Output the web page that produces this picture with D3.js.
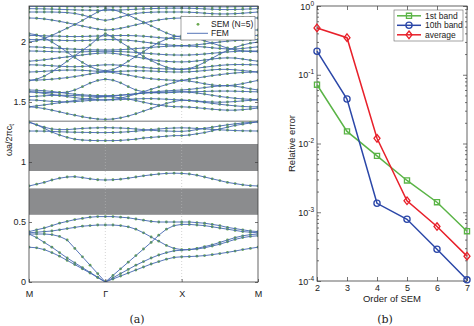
<!DOCTYPE html>
<html>
<head>
<meta charset="utf-8">
<script src="https://cdn.jsdelivr.net/npm/d3@7"></script>
<style>
  body { margin: 0; background: #fff; }
  svg { display: block; font-family: "Liberation Sans", Arial, sans-serif; }
  .frame { fill: none; stroke: #3c3c3c; stroke-width: 0.8; }
  .tick line { stroke: #3c3c3c; stroke-width: 0.7; }
  .tick text { font-family: "Liberation Sans", Arial, sans-serif; font-size: 9px; fill: #222; }
  .domain { display: none; }
</style>
</head>
<body>
<div class="container"></div>
<script>
const WIDTH = 474;
const HEIGHT = 326;

// panel (a) plot box
const A_LEFT = 29, A_RIGHT = 258, A_TOP = 6, A_BOTTOM = 282;
// panel (b) plot box
const B_LEFT = 317, B_RIGHT = 467, B_TOP = 6, B_BOTTOM = 281;

// ---- band structure (k index 0..30 along M-Γ-X-M) ----
var kTicks = [0, 10, 20, 30];
var kLabels = ["M", "Γ", "X", "M"];
var freqTicks = [0, 0.5, 1, 1.5, 2];
var gapBands = [[0.56, 0.78], [0.925, 1.15], [1.335, 1.345]];

var lowBands = [
  [0.29,0.285,0.27,0.245,0.215,0.18,0.145,0.11,0.075,0.037,0,0.025,0.05,0.075,0.1,0.125,0.15,0.17,0.19,0.205,0.21,0.212,0.215,0.22,0.228,0.237,0.247,0.258,0.27,0.28,0.29],
  [0.40,0.37,0.33,0.29,0.245,0.2,0.16,0.12,0.08,0.04,0,0.035,0.07,0.105,0.14,0.17,0.2,0.225,0.245,0.26,0.265,0.27,0.28,0.295,0.31,0.33,0.35,0.37,0.385,0.395,0.4],
  [0.40,0.40,0.40,0.395,0.38,0.35,0.28,0.21,0.14,0.07,0,0.055,0.11,0.165,0.22,0.275,0.33,0.39,0.44,0.47,0.48,0.48,0.475,0.47,0.46,0.45,0.44,0.43,0.42,0.415,0.41],
  [0.41,0.415,0.42,0.425,0.435,0.445,0.455,0.465,0.47,0.475,0.475,0.475,0.47,0.46,0.44,0.41,0.375,0.34,0.305,0.28,0.27,0.27,0.275,0.285,0.3,0.315,0.335,0.355,0.37,0.38,0.385],
  [0.42,0.435,0.45,0.47,0.49,0.505,0.52,0.53,0.54,0.545,0.545,0.545,0.54,0.535,0.525,0.515,0.505,0.5,0.5,0.5,0.5,0.5,0.495,0.49,0.48,0.47,0.455,0.445,0.435,0.425,0.42]
];

var midBands = [
  [0.80,0.815,0.83,0.85,0.865,0.875,0.878,0.87,0.86,0.852,0.85,0.852,0.857,0.865,0.875,0.885,0.893,0.9,0.905,0.907,0.905,0.9,0.89,0.875,0.86,0.845,0.83,0.82,0.81,0.803,0.80],
  [1.335,1.31,1.28,1.25,1.225,1.205,1.19,1.183,1.18,1.178,1.178,1.178,1.18,1.185,1.19,1.2,1.205,1.21,1.215,1.22,1.22,1.225,1.235,1.245,1.26,1.275,1.29,1.305,1.315,1.325,1.335],
  [1.33,1.31,1.29,1.275,1.27,1.27,1.275,1.28,1.283,1.285,1.286,1.285,1.283,1.28,1.275,1.27,1.265,1.26,1.258,1.256,1.255,1.26,1.27,1.28,1.29,1.3,1.31,1.318,1.325,1.33,1.335],
  [1.258,1.258,1.257,1.255,1.252,1.25,1.248,1.247,1.246,1.245,1.245,1.246,1.248,1.252,1.257,1.263,1.27,1.275,1.28,1.283,1.285,1.283,1.28,1.276,1.272,1.268,1.265,1.262,1.26,1.259,1.258]
];

var highBands = [
  [1.46,1.455,1.445,1.432,1.418,1.403,1.39,1.377,1.366,1.358,1.355,1.358,1.368,1.383,1.402,1.424,1.446,1.468,1.488,1.504,1.515,1.512,1.505,1.497,1.489,1.481,1.474,1.468,1.463,1.46,1.46],
  [1.517,1.515,1.51,1.505,1.502,1.5,1.503,1.508,1.513,1.516,1.517,1.518,1.52,1.523,1.526,1.528,1.528,1.526,1.523,1.52,1.517,1.513,1.508,1.503,1.5,1.498,1.5,1.504,1.509,1.514,1.517],
  [1.545,1.548,1.552,1.555,1.556,1.556,1.554,1.551,1.548,1.546,1.545,1.542,1.535,1.525,1.512,1.498,1.485,1.474,1.466,1.461,1.46,1.457,1.452,1.446,1.44,1.435,1.432,1.432,1.436,1.442,1.45],
  [1.46,1.468,1.476,1.485,1.494,1.503,1.512,1.521,1.53,1.538,1.545,1.55,1.556,1.562,1.568,1.573,1.577,1.58,1.583,1.584,1.585,1.582,1.575,1.566,1.556,1.546,1.538,1.531,1.526,1.522,1.52],
  [1.585,1.58,1.572,1.563,1.554,1.545,1.537,1.529,1.523,1.519,1.517,1.521,1.532,1.548,1.566,1.586,1.606,1.626,1.645,1.662,1.68,1.69,1.7,1.71,1.72,1.728,1.736,1.742,1.746,1.749,1.75],
  [1.585,1.583,1.58,1.578,1.578,1.582,1.6,1.628,1.658,1.68,1.69,1.682,1.66,1.628,1.6,1.585,1.578,1.576,1.577,1.58,1.585,1.585,1.586,1.588,1.59,1.591,1.591,1.59,1.588,1.586,1.585],
  [1.6,1.598,1.594,1.588,1.58,1.572,1.565,1.56,1.556,1.554,1.553,1.554,1.557,1.562,1.568,1.575,1.582,1.588,1.593,1.597,1.6,1.605,1.612,1.62,1.628,1.634,1.636,1.632,1.622,1.61,1.6],
  [1.68,1.682,1.686,1.69,1.696,1.703,1.712,1.722,1.734,1.744,1.75,1.746,1.736,1.724,1.712,1.702,1.694,1.688,1.684,1.681,1.68,1.674,1.664,1.652,1.642,1.636,1.636,1.642,1.653,1.667,1.68],
  [1.75,1.752,1.756,1.76,1.764,1.766,1.766,1.764,1.76,1.756,1.754,1.754,1.756,1.758,1.76,1.76,1.758,1.755,1.752,1.75,1.75,1.752,1.756,1.762,1.768,1.772,1.772,1.768,1.762,1.756,1.75],
  [1.81,1.809,1.806,1.802,1.798,1.795,1.794,1.796,1.8,1.806,1.81,1.81,1.806,1.8,1.794,1.788,1.782,1.778,1.775,1.774,1.774,1.776,1.782,1.79,1.798,1.805,1.81,1.812,1.812,1.811,1.81],
  [1.84,1.845,1.852,1.86,1.868,1.876,1.884,1.892,1.9,1.906,1.91,1.906,1.898,1.888,1.876,1.864,1.853,1.844,1.838,1.835,1.834,1.836,1.842,1.85,1.858,1.865,1.868,1.866,1.858,1.848,1.84],
  [1.68,1.69,1.715,1.752,1.795,1.84,1.885,1.93,1.975,2.03,2.07,2.04,2.0,1.96,1.92,1.88,1.845,1.815,1.79,1.775,1.77,1.778,1.8,1.83,1.865,1.9,1.93,1.955,1.975,1.99,2.0],
  [2.07,2.06,2.035,2.0,1.96,1.915,1.87,1.83,1.795,1.77,1.76,1.77,1.8,1.84,1.88,1.92,1.96,1.995,2.025,2.045,2.05,2.045,2.03,2.01,1.99,1.97,1.95,1.935,1.925,1.92,1.92],
  [2.0,2.01,2.03,2.055,2.085,2.115,2.145,2.18,2.215,2.25,2.275,2.27,2.25,2.225,2.195,2.165,2.135,2.105,2.075,2.052,2.04,2.04,2.045,2.055,2.065,2.075,2.085,2.092,2.097,2.1,2.1],
  [2.25,2.25,2.25,2.25,2.248,2.245,2.238,2.225,2.208,2.19,2.18,2.19,2.208,2.225,2.238,2.245,2.248,2.25,2.25,2.25,2.25,2.248,2.245,2.24,2.236,2.234,2.234,2.236,2.24,2.245,2.25],
  [2.278,2.277,2.276,2.274,2.272,2.27,2.268,2.266,2.265,2.264,2.264,2.265,2.267,2.27,2.273,2.276,2.278,2.28,2.281,2.282,2.282,2.281,2.279,2.276,2.273,2.271,2.27,2.271,2.273,2.276,2.278],
  [2.2,2.198,2.192,2.183,2.172,2.16,2.147,2.133,2.12,2.108,2.1,2.104,2.114,2.128,2.143,2.158,2.172,2.184,2.193,2.198,2.2,2.202,2.205,2.208,2.21,2.21,2.209,2.207,2.205,2.202,2.2],
  [2.055,2.054,2.052,2.05,2.048,2.046,2.045,2.046,2.048,2.05,2.052,2.053,2.054,2.054,2.052,2.048,2.043,2.037,2.032,2.028,2.026,2.027,2.03,2.034,2.038,2.042,2.046,2.049,2.052,2.054,2.055],
  [2.02,2.02,2.018,2.016,2.014,2.012,2.011,2.012,2.014,2.017,2.02,2.02,2.018,2.014,2.008,2.0,1.992,1.984,1.977,1.972,1.97,1.972,1.977,1.984,1.992,2.0,2.007,2.012,2.016,2.019,2.02],
  [1.96,1.958,1.955,1.951,1.947,1.943,1.94,1.937,1.935,1.934,1.933,1.934,1.936,1.94,1.945,1.95,1.955,1.96,1.964,1.966,1.967,1.966,1.963,1.958,1.952,1.946,1.942,1.942,1.946,1.953,1.96],
  [1.925,1.924,1.922,1.92,1.918,1.917,1.917,1.918,1.92,1.922,1.923,1.922,1.92,1.917,1.913,1.908,1.903,1.898,1.894,1.892,1.891,1.892,1.895,1.9,1.906,1.912,1.917,1.921,1.924,1.925,1.925],
  [2.297,2.297,2.297,2.296,2.296,2.295,2.295,2.295,2.294,2.294,2.294,2.294,2.294,2.295,2.295,2.296,2.296,2.297,2.297,2.297,2.297,2.297,2.296,2.295,2.294,2.293,2.293,2.294,2.295,2.296,2.297]
];

// ---- convergence of SEM ----
var semOrders = [2, 3, 4, 5, 6, 7];
var firstBandErr = [0.0716, 0.0150, 0.0066, 0.0029, 0.0014, 0.00053];
var tenthBandErr = [0.22, 0.0444, 0.00135, 0.00079, 0.00029, 0.000104];
var averageErr = [0.48, 0.346, 0.0119, 0.00147, 0.00062, 0.00023];
var errExponents = [0, -1, -2, -3, -4];

var xA = d3.scaleLinear().domain([0, 30]).range([A_LEFT, A_RIGHT]);
var yA = d3.scaleLinear().domain([0, 2.3]).range([A_BOTTOM, A_TOP]);

var xB = d3.scaleLinear().domain([2, 7]).range([B_LEFT, B_RIGHT]);
var yB = d3.scaleLog().domain([1e-4, 1]).range([B_BOTTOM, B_TOP]);

var translate = function(x, y){
    return "translate(" + x + "," + y + ")";
};

var drawBands = function(svg){
    svg.append("clipPath").attr("id", "clipA")
        .append("rect")
        .attr("x", A_LEFT).attr("y", A_TOP)
        .attr("width", A_RIGHT - A_LEFT).attr("height", A_BOTTOM - A_TOP);

    var plot = svg.append("g").attr("clip-path", "url(#clipA)");

    plot.selectAll("rect.gap")
        .data(gapBands)
        .enter().append("rect")
        .attr("class", "gap")
        .attr("x", A_LEFT)
        .attr("width", A_RIGHT - A_LEFT)
        .attr("y", function(d){ return yA(d[1]); })
        .attr("height", function(d){ return yA(d[0]) - yA(d[1]); })
        .attr("fill", "#8b8c8e");

    plot.selectAll("line.grid")
        .data(kTicks.slice(1, 3))
        .enter().append("line")
        .attr("x1", xA).attr("x2", xA)
        .attr("y1", A_TOP).attr("y2", A_BOTTOM)
        .attr("stroke", "#b8b8b8")
        .attr("stroke-width", 0.6)
        .attr("stroke-dasharray", "1,2");

    var bands = lowBands.concat(midBands, highBands);

    var dots = [];
    bands.forEach(function(b){
        b.forEach(function(v, k){ dots.push({k: k, v: v}); });
    });

    plot.append("g").selectAll("circle")
        .data(dots)
        .enter().append("circle")
        .attr("cx", function(d){ return xA(d.k); })
        .attr("cy", function(d){ return yA(d.v); })
        .attr("r", 1.4)
        .attr("fill", "#6aa84f");

    var line = d3.line()
        .x(function(d, i){ return xA(i); })
        .y(function(d){ return yA(d); });

    plot.append("g").selectAll("path")
        .data(bands)
        .enter().append("path")
        .attr("d", line)
        .attr("fill", "none")
        .attr("stroke", "#4466b0")
        .attr("stroke-width", 0.9);

    svg.append("g").attr("transform", translate(A_LEFT, 0))
        .call(d3.axisLeft(yA).tickValues(freqTicks).tickSize(-3).tickPadding(3).tickFormat(d3.format("~g")));
    svg.append("g").attr("transform", translate(A_RIGHT, 0))
        .call(d3.axisRight(yA).tickValues(freqTicks).tickSize(-3).tickFormat(""));
    svg.append("g").attr("transform", translate(0, A_BOTTOM))
        .call(d3.axisBottom(xA).tickValues(kTicks).tickSize(-3).tickPadding(9)
            .tickFormat(function(d, i){ return kLabels[i]; }));
    svg.append("g").attr("transform", translate(0, A_TOP))
        .call(d3.axisTop(xA).tickValues(kTicks).tickSize(-3).tickFormat(""));

    svg.append("rect").attr("class", "frame")
        .attr("x", A_LEFT).attr("y", A_TOP)
        .attr("width", A_RIGHT - A_LEFT).attr("height", A_BOTTOM - A_TOP);

    var ylab = svg.append("text")
        .attr("transform", translate(11.5, 140) + " rotate(-90)")
        .attr("text-anchor", "middle")
        .attr("font-size", 9)
        .attr("fill", "#222")
        .text("ωa/2πc");
    ylab.append("tspan").attr("font-size", 6.5).attr("dy", 2).text("t");

    // legend
    var lg = svg.append("g");
    lg.append("rect")
        .attr("x", 181).attr("y", 16.5).attr("width", 74).attr("height", 23.5)
        .attr("fill", "#fff").attr("stroke", "#666").attr("stroke-width", 0.6);
    lg.append("circle").attr("cx", 198).attr("cy", 24.3).attr("r", 1.4).attr("fill", "#6aa84f");
    lg.append("line").attr("x1", 187).attr("x2", 208).attr("y1", 33.3).attr("y2", 33.3)
        .attr("stroke", "#4466b0").attr("stroke-width", 0.9);
    lg.append("text").attr("x", 211).attr("y", 27.3).attr("font-size", 8.5).attr("fill", "#222").text("SEM (N=5)");
    lg.append("text").attr("x", 211).attr("y", 36.3).attr("font-size", 8.5).attr("fill", "#222").text("FEM");
};

var markerPath = function(shape){
    if (shape === "square") return d3.symbol().type(d3.symbolSquare).size(26)();
    if (shape === "circle") return d3.symbol().type(d3.symbolCircle).size(30)();
    return "M0,-3.8L3,0L0,3.8L-3,0Z";
};

var drawConvergence = function(svg){
    var minorTicks = yB.ticks().filter(function(t){
        return Math.abs(Math.log10(t) - Math.round(Math.log10(t))) > 1e-6;
    });
    var majorTicks = errExponents.map(function(e){ return Math.pow(10, e); });

    svg.append("g").attr("transform", translate(B_LEFT, 0))
        .call(d3.axisLeft(yB).tickValues(majorTicks).tickSize(-4).tickFormat(""));
    svg.append("g").attr("transform", translate(B_LEFT, 0))
        .call(d3.axisLeft(yB).tickValues(minorTicks).tickSize(-2).tickFormat(""));
    svg.append("g").attr("transform", translate(B_RIGHT, 0))
        .call(d3.axisRight(yB).tickValues(majorTicks).tickSize(-4).tickFormat(""));
    svg.append("g").attr("transform", translate(B_RIGHT, 0))
        .call(d3.axisRight(yB).tickValues(minorTicks).tickSize(-2).tickFormat(""));
    svg.append("g").attr("transform", translate(0, B_BOTTOM))
        .call(d3.axisBottom(xB).tickValues(semOrders).tickSize(-4).tickPadding(4).tickFormat(d3.format("d")));
    svg.append("g").attr("transform", translate(0, B_TOP))
        .call(d3.axisTop(xB).tickValues(semOrders).tickSize(-4).tickFormat(""));

    var labels = svg.append("g").selectAll("text")
        .data(errExponents)
        .enter().append("text")
        .attr("x", B_LEFT - 3)
        .attr("y", function(e){ return yB(Math.pow(10, e)) + 3.5; })
        .attr("text-anchor", "end")
        .attr("font-size", 9)
        .attr("fill", "#222")
        .text("10");
    labels.append("tspan")
        .attr("dy", -4)
        .attr("font-size", 6.5)
        .text(function(e){ return e; });

    svg.append("rect").attr("class", "frame")
        .attr("x", B_LEFT).attr("y", B_TOP)
        .attr("width", B_RIGHT - B_LEFT).attr("height", B_BOTTOM - B_TOP);

    var series = [
        {name: "1st band", values: firstBandErr, color: "#5ab446", shape: "square"},
        {name: "10th band", values: tenthBandErr, color: "#2b47a8", shape: "circle"},
        {name: "average", values: averageErr, color: "#e8202a", shape: "diamond"}
    ];

    var line = d3.line()
        .x(function(d, i){ return xB(semOrders[i]); })
        .y(function(d){ return yB(d); });

    series.forEach(function(s){
        svg.append("path")
            .datum(s.values)
            .attr("d", line)
            .attr("fill", "none")
            .attr("stroke", s.color)
            .attr("stroke-width", 1.5);
        svg.append("g").selectAll("path")
            .data(s.values)
            .enter().append("path")
            .attr("d", markerPath(s.shape))
            .attr("transform", function(d, i){ return translate(xB(semOrders[i]), yB(d)); })
            .attr("fill", "none")
            .attr("stroke", s.color)
            .attr("stroke-width", 1.3);
    });

    // legend
    var lg = svg.append("g");
    lg.append("rect")
        .attr("x", 394).attr("y", 10).attr("width", 69).attr("height", 31)
        .attr("fill", "#fff").attr("stroke", "#666").attr("stroke-width", 0.6);
    series.forEach(function(s, i){
        var y = 15.8 + i * 9.5;
        lg.append("line").attr("x1", 397).attr("x2", 421).attr("y1", y).attr("y2", y)
            .attr("stroke", s.color).attr("stroke-width", 1.5);
        lg.append("path").attr("d", markerPath(s.shape))
            .attr("transform", translate(409, y))
            .attr("fill", "none").attr("stroke", s.color).attr("stroke-width", 1.3);
        lg.append("text").attr("x", 425).attr("y", y + 3)
            .attr("font-size", 8.5).attr("fill", "#222").text(s.name);
    });

    svg.append("text")
        .attr("transform", translate(295, 143.5) + " rotate(-90)")
        .attr("text-anchor", "middle")
        .attr("font-size", 9.5)
        .attr("fill", "#222")
        .text("Relative error");

    svg.append("text")
        .attr("x", 392).attr("y", 301.5)
        .attr("text-anchor", "middle")
        .attr("font-size", 9.5)
        .attr("fill", "#222")
        .text("Order of SEM");
};

var loadChart = function(){
    var svg = d3.select(".container").append("svg")
        .attr("width", WIDTH)
        .attr("height", HEIGHT);

    svg.append("rect").attr("width", WIDTH).attr("height", HEIGHT).attr("fill", "#fff");

    drawBands(svg);
    drawConvergence(svg);

    svg.selectAll("text.caption")
        .data([{t: "(a)", x: 137}, {t: "(b)", x: 385}])
        .enter().append("text")
        .attr("class", "caption")
        .attr("x", function(d){ return d.x; })
        .attr("y", 322.5)
        .attr("text-anchor", "middle")
        .attr("font-family", "'DejaVu Serif', 'Liberation Serif', serif")
        .attr("font-size", 11)
        .attr("fill", "#222")
        .text(function(d){ return d.t; });
};

window.onload = loadChart;
</script>
</body>
</html>
